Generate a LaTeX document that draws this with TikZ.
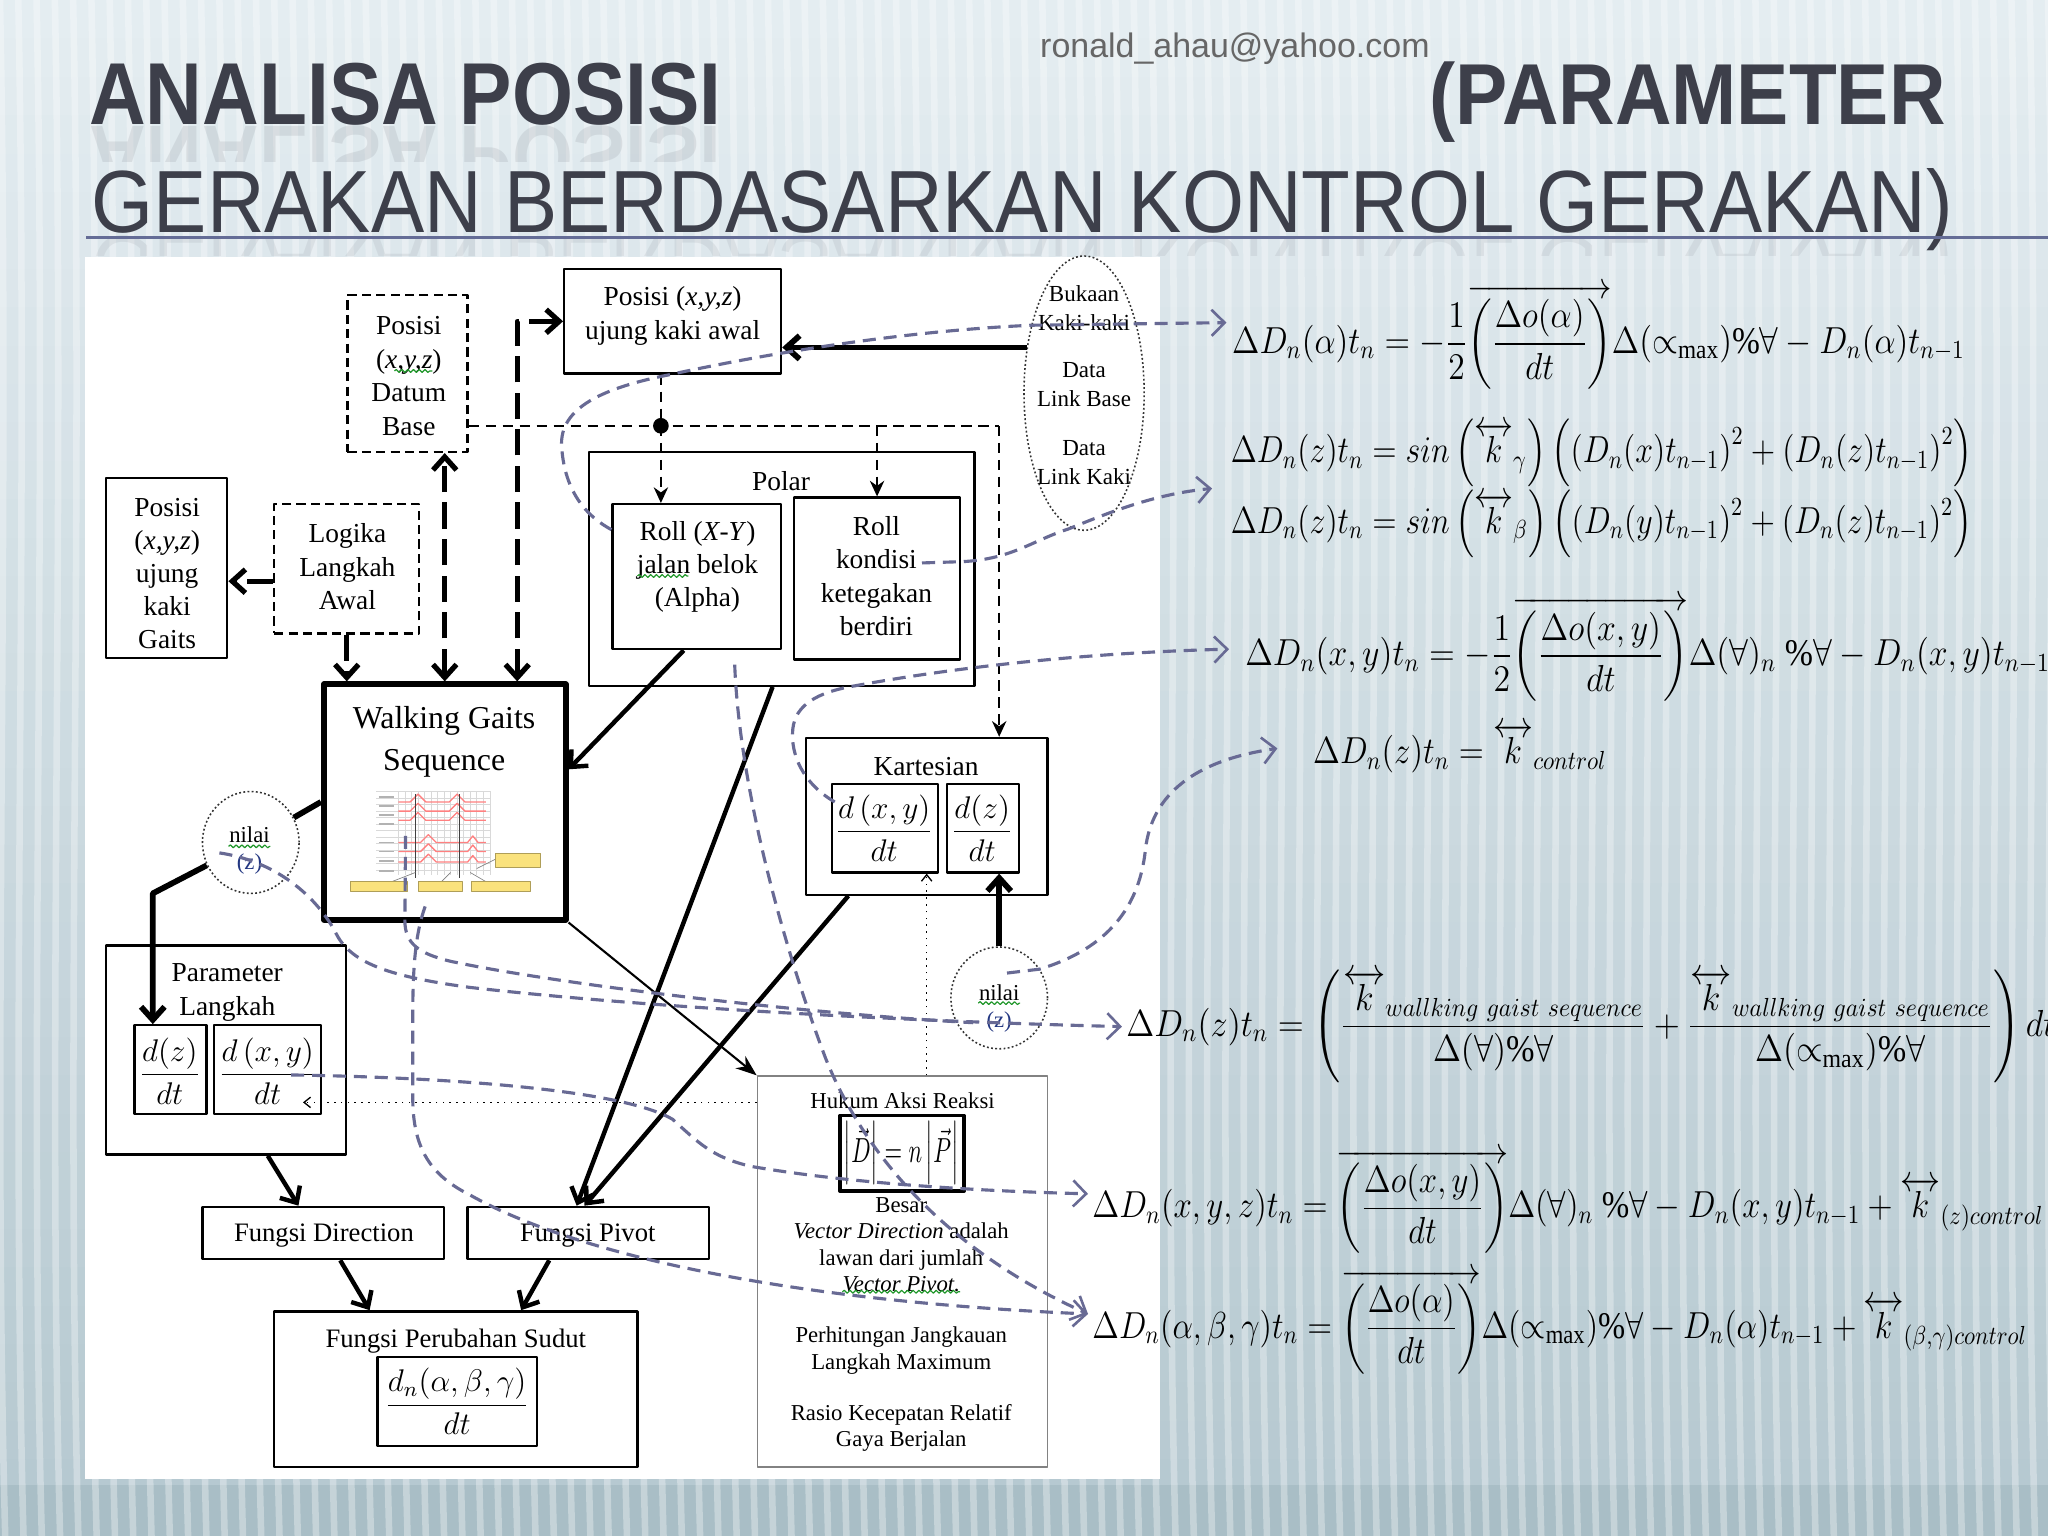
\documentclass[tikz,border=0pt]{standalone}
\usepackage{fontspec}
\usepackage{amsmath}
\usepackage{graphicx}
\setmainfont{Liberation Serif}
\newfontfamily\titlefont{Liberation Sans}
\newfontfamily\mailfont{Liberation Sans}
\usetikzlibrary{arrows.meta,fit,shapes.geometric,decorations.pathmorphing,calc}
\definecolor{dcol}{RGB}{104,106,148}
\definecolor{ttl}{RGB}{61,63,74}
\definecolor{bgtop}{RGB}{228,237,241}
\definecolor{bgbot}{RGB}{180,199,207}
\definecolor{band}{RGB}{166,188,196}
\definecolor{wavy}{RGB}{30,150,40}
\definecolor{zblue}{RGB}{35,55,130}
\definecolor{ylw}{RGB}{250,226,125}
\definecolor{hukgray}{RGB}{130,130,130}
\definecolor{rulec}{RGB}{100,108,150}
\tikzset{
  hbarb/.tip={Straight Barb[length=5pt,width=9pt]},
  sbarb/.tip={Straight Barb[length=2.5pt,width=4pt,line width=0.5pt]},
  cbarb/.tip={Straight Barb[length=5pt,width=10pt,line width=1pt]},
  stri/.tip={Stealth[length=6pt,width=5.5pt]},
  box/.style={draw, line width=0.9pt, inner sep=0pt},
  dbox/.style={draw, line width=0.9pt, dash pattern=on 3.5pt off 2pt, inner sep=0pt},
  txt/.style={align=center, inner sep=0pt, font=\fontsize{10.5}{12.8}\selectfont},
  htxt/.style={align=center, inner sep=0pt, font=\fontsize{8.7}{10}\selectfont},
  otxt/.style={align=center, inner sep=0pt, font=\fontsize{8.8}{11}\selectfont},
  frac/.style={inner sep=0pt, font=\large},
  eqn/.style={anchor=west, inner sep=0pt, font=\Large},
  heavy/.style={line width=1.7pt, -hbarb},
  heavydash/.style={line width=2pt, dash pattern=on 10pt off 4pt},
  thindash/.style={line width=0.8pt, dash pattern=on 4pt off 2.5pt},
  curve/.style={draw=dcol, line width=1.2pt, dash pattern=on 5pt off 3pt},
  dotcirc/.style={draw=black!80, line width=0.6pt, dash pattern=on 0.7pt off 0.9pt, ellipse, inner sep=0pt},
  squig/.style={draw=wavy, line width=0.45pt, decorate, decoration={snake, amplitude=0.55pt, segment length=2.2pt}}
}
\begin{document}
\begin{tikzpicture}[x=0.5pt,y=-0.5pt, line join=round]
\useasboundingbox (0,0) rectangle (1568,1176);
\clip (0,0) rectangle (1568,1176);
% ---------- background ----------
\foreach \i in {0,...,39} {
  \pgfmathsetmacro\p{\i*2.5}
  \fill[bgbot!\p!bgtop] (0,\i*29.4) rectangle (1568,\i*29.4+31);
}
\fill[band, opacity=0.8] (0,1137) rectangle (1568,1176);
\foreach \i in {0,...,113} {
  \draw[white, opacity=0.33, line width=2.5pt] (\i*14,0) .. controls (\i*14+8,400) and (\i*14-6,800) .. (\i*14+4,1176);
}
% ---------- title ----------
\begin{scope}
  \clip (0,96) rectangle (1568,124);
  \node[anchor=base west, inner sep=0pt, text=ttl, opacity=0.1, yscale=-1] (t1r) at (68,97) {\resizebox{242pt}{23.5pt}{\titlefont\bfseries ANALISA POSISI}};
\end{scope}
\begin{scope}
  \clip (0,179) rectangle (1568,196);
  \node[anchor=base west, inner sep=0pt, text=ttl, opacity=0.08, yscale=-1] (t3r) at (70,181) {\resizebox{712.5pt}{24.5pt}{\titlefont GERAKAN BERDASARKAN KONTROL GERAKAN)}};
\end{scope}
\node[anchor=base west, inner sep=0pt, text=ttl] (t1) at (68,95) {\resizebox{242pt}{23.5pt}{\titlefont\bfseries ANALISA POSISI}};
\node[anchor=base east, inner sep=0pt, text=ttl] (t2) at (1490,95) {\resizebox{197.5pt}{24pt}{\titlefont\bfseries (PARAMETER}};
\node[anchor=base west, inner sep=0pt, text=ttl] (t3) at (70,178) {\resizebox{712.5pt}{24.5pt}{\titlefont GERAKAN BERDASARKAN KONTROL GERAKAN)}};
\draw[rulec, line width=1pt] (66,182) -- (1568,182);
\node[anchor=base west, inner sep=0pt, text=black!60, font=\mailfont\fontsize{13}{13}\selectfont] (email) at (796,44) {ronald\_ahau@yahoo.com};
% ---------- white panel ----------
\fill[white] (65,197) rectangle (888,1132);
% ---------- boxes ----------
\node[box, fit={(432,206) (598,286)}] (top) {};
\node[dbox, fit={(266,226) (358,346)}] (datum) {};
\node[box, fit={(81,366) (174,504)}] (gaits) {};
\node[dbox, fit={(210,386) (321,485)}] (logika) {};
\node[box, line width=2.3pt, fit={(248,524) (433,704)}] (wg) {};
\node[box, fit={(451,346) (746,525)}] (polar) {};
\node[box, fit={(469,386) (598,497)}] (rollxy) {};
\node[box, fit={(608,381) (735,505)}] (rollk) {};
\node[box, fit={(617,565) (802,685)}] (kart) {};
\node[box, fit={(637,600) (718,668)}] (kxy) {};
\node[box, fit={(725,600) (780,668)}] (kz) {};
\node[box, fit={(81,724) (265,884)}] (param) {};
\node[box, fit={(103,785) (158,853)}] (pz) {};
\node[box, fit={(164,785) (246,853)}] (pxy) {};
\node[box, fit={(155,924) (340,964)}] (fdir) {};
\node[box, fit={(358,924) (543,964)}] (fpiv) {};
\node[box, fit={(210,1004) (488,1123)}] (fps) {};
\node[box, fit={(289,1039) (411,1107)}] (fpsin) {};
\node[draw=hukgray, line width=0.7pt, inner sep=0pt, fit={(580,824) (802,1123)}] (hukum) {};
\node[box, line width=1.3pt, fit={(643,854) (738,912)}] (hukin) {};
\node[dotcirc, minimum width=46pt, minimum height=105pt] (oval) at (830,301) {};
\node[dotcirc, minimum width=37pt, minimum height=39pt] (nz1) at (192,645) {};
\node[dotcirc, minimum width=37pt, minimum height=39pt] (nz2) at (765,764) {};
% ---------- texts ----------
\node[txt] (toptxt) at (515,242) {Posisi (\textit{x,y,z})\\ujung kaki awal};
\node[txt] (datumtxt) at (313,288) {Posisi\\(\textit{x,y,z})\\Datum\\Base};
\node[txt, font=\fontsize{10.5}{12.6}\selectfont] (gaitstxt) at (128,439) {Posisi\\(\textit{x,y,z})\\ujung\\kaki\\Gaits};
\node[txt] (logikatxt) at (266,434) {Logika\\Langkah\\Awal};
\node[txt] (polartxt) at (598,368) {Polar};
\node[txt] (rollxytxt) at (534,434) {Roll (\textit{X-Y})\\jalan belok\\(Alpha)};
\node[txt] (rollktxt) at (671,441) {Roll\\kondisi\\ketegakan\\berdiri};
\node[otxt] (ovaltxt) at (830,295) {Bukaan\\Kaki-kaki\\[7pt]Data\\Link Base\\[8pt]Data\\Link Kaki};
\node[txt, font=\fontsize{12.2}{16}\selectfont] (wgtxt) at (340,568) {Walking Gaits\\Sequence};
\node[txt] (karttxt) at (709,587) {Kartesian};
\node[frac] (kxyf) at (677,634) {$\dfrac{d\,(x,y)}{dt}$};
\node[frac] (kzf) at (752,634) {$\dfrac{d(z)}{dt}$};
\node[txt] (paramtxt) at (174,760) {Parameter\\Langkah};
\node[frac] (pzf) at (130,820) {$\dfrac{d(z)}{dt}$};
\node[frac] (pxyf) at (205,820) {$\dfrac{d\,(x,y)}{dt}$};
\node[txt, font=\fontsize{10.2}{12}\selectfont] (fdirtxt) at (248,946) {Fungsi Direction};
\node[txt, font=\fontsize{10.2}{12}\selectfont] (fpivtxt) at (450,946) {Fungsi Pivot};
\node[txt, font=\fontsize{10.2}{12}\selectfont] (fpstxt) at (349,1027) {Fungsi Perubahan Sudut};
\node[frac] (fpsf) at (350,1073) {$\dfrac{d_n(\alpha,\beta,\gamma)}{dt}$};
\node[htxt] (huk1) at (691,843) {Hukum Aksi Reaksi};
\node[inner sep=0pt] (hukf) at (690,883) {\resizebox*{44pt}{24pt}{$\left|\vec{D}\right| = n\left|\vec{P}\right|$}};
\node[htxt] (huk2) at (690,953) {Besar\\\textit{Vector Direction} adalah\\lawan dari jumlah\\\textit{Vector Pivot.}};
\node[htxt] (huk3) at (690,1034) {Perhitungan Jangkauan\\Langkah Maximum};
\node[htxt] (huk4) at (690,1093) {Rasio Kecepatan Relatif\\Gaya Berjalan};
\node[htxt, font=\fontsize{8.7}{10.5}\selectfont] (nz1txt) at (191,651) {nilai\\\textcolor{zblue}{(z)}};
\node[htxt, font=\fontsize{8.7}{10.5}\selectfont] (nz2txt) at (765,772) {nilai\\\textcolor{zblue}{(z)}};
% squiggly underlines
\draw[squig] (175,648) -- (207,648);
\draw[squig] (749,768) -- (781,768);
\draw[squig] (302,284) -- (331,284);
\draw[squig] (488,441) -- (527,441);
\draw[squig] (645,989) -- (735,989);
% ---------- thumbnail inside Walking Gaits ----------
\begin{scope}
  \fill[white] (288,606) rectangle (376,670);
  \foreach \gx in {305,310,...,375} \draw[gray!30, line width=0.2pt] (\gx,606) -- (\gx,670);
  \foreach \gy in {606,611,...,670} \draw[gray!30, line width=0.2pt] (288,\gy) -- (376,\gy);
  \foreach \gy in {610,617,624,631,645,652,659,667} \draw[gray!60, line width=0.6pt] (290,\gy) -- (302,\gy);
  \foreach \ry in {614,621,628} \draw[red!50, line width=0.5pt] (305,\ry) -- (314,\ry) -- (320,\ry-6) -- (326,\ry) -- (344,\ry) -- (350,\ry-6) -- (356,\ry) -- (372,\ry);
  \foreach \ry in {645,652,660} \draw[red!50, line width=0.5pt] (305,\ry) -- (322,\ry) -- (328,\ry-6) -- (334,\ry) -- (358,\ry) -- (362,\ry-5) -- (366,\ry) -- (372,\ry);
  \draw[gray!50!black, line width=0.5pt] (318,608) -- (318,672) (352,608) -- (352,672);
  \draw[gray, line width=0.25pt] (300,675) -- (318,668) (338,675) -- (345,668) (372,675) -- (360,668) (379,658) -- (365,665);
  \filldraw[fill=ylw, draw=ylw!70!black, line width=0.2pt] (268,675) rectangle (312,682);
  \filldraw[fill=ylw, draw=ylw!70!black, line width=0.2pt] (320,675) rectangle (354,682);
  \filldraw[fill=ylw, draw=ylw!70!black, line width=0.2pt] (361,675) rectangle (406,682);
  \filldraw[fill=ylw, draw=ylw!70!black, line width=0.2pt] (379,653) rectangle (414,664);
\end{scope}
% ---------- connectors ----------
\coordinate (kc) at (396,246);
\coordinate (kl) at (0,445);
\coordinate (ko) at (786,266);
\coordinate (dot) at (506,326);
\coordinate (kr) at (765,326);
\coordinate (kn) at (117,684);
\coordinate (kh) at (232,844);
\draw[heavydash, hbarb-hbarb] (wg.north) -- (wg.north |- datum.south);
\draw[heavydash, hbarb-hbarb] (wg.north -| kc) -- (kc) -- (top.west |- kc);
\draw[heavydash, -hbarb] (logika.south) -- (logika.south |- wg.north);
\draw[heavydash, -hbarb] (logika.west |- kl) -- (gaits.east |- kl);
\draw[line width=2.2pt, -hbarb] (ko) -- (top.east |- ko);
\draw[thindash] (datum.east |- dot) -- (kr);
\draw[thindash, -stri] (kr) -- (kart.north -| kr);
\draw[thindash] (top.south -| dot) -- (dot);
\draw[thindash, -stri] (dot) -- (rollxy.north -| dot);
\draw[thindash, -stri] (rollk.north |- dot) -- (rollk.north);
\fill (dot) circle (6);
\draw[heavy] ([shift={(-10,0)}]rollxy.south) -- ([shift={(0,-25)}]wg.east);
\draw[heavy] ([shift={(-7,0)}]polar.south) -- ([shift={(-9,0)}]fpiv.north);
\draw[heavy] ([shift={(-60,0)}]kart.south) -- ([shift={(-3,0)}]fpiv.north);
\draw[line width=0.8pt, -{Stealth[length=8pt,width=6pt]}] (wg.south east) -- (hukum.north west);
\draw[line width=2.2pt] (wg.west) -- (nz1);
\draw[line width=2.2pt, -hbarb] (nz1) -- (kn) -- (pz.north -| kn);
\draw[heavy] ([shift={(32,0)}]param.south) -- ([shift={(-19,0)}]fdir.north);
\draw[heavy] ([shift={(13,0)}]fdir.south) -- ([shift={(-66,0)}]fps.north);
\draw[heavy] ([shift={(-30,0)}]fpiv.south) -- ([shift={(50,0)}]fps.north);
\draw[line width=2.2pt, -hbarb] (nz2.north) -- (nz2.north |- kz.south);
\draw[line width=0.6pt, dotted, -sbarb] (hukum.north -| kart.south) -- (kxy.south -| kart.south);
\draw[line width=0.6pt, dotted, -sbarb] (hukum.west |- kh) -- (kh);
% ---------- equations ----------
\node[eqn] (eq1) at (943,258) {\scalebox{0.89}[1]{$\displaystyle \Delta D_n(\alpha)t_n = -\frac{1}{2}\overrightarrow{\left(\frac{\Delta o(\alpha)}{dt}\right)}\Delta(\propto_{\max})\%\forall - D_n(\alpha)t_{n-1}$}};
\node[eqn] (eq2) at (942,347) {\scalebox{0.85}[1]{$\displaystyle \Delta D_n(z)t_n = sin\left(\overleftrightarrow{k}_{\gamma}\right)\left(\left(D_n(x)t_{n-1}\right)^2 + \left(D_n(z)t_{n-1}\right)^2\right)$}};
\node[eqn] (eq3) at (942,401) {\scalebox{0.85}[1]{$\displaystyle \Delta D_n(z)t_n = sin\left(\overleftrightarrow{k}_{\beta}\right)\left(\left(D_n(y)t_{n-1}\right)^2 + \left(D_n(z)t_{n-1}\right)^2\right)$}};
\node[eqn] (eq4) at (953,497) {\scalebox{0.9}[1]{$\displaystyle \Delta D_n(x,y)t_n = -\frac{1}{2}\overrightarrow{\left(\frac{\Delta o(x,y)}{dt}\right)}\Delta(\forall)_n\ \%\forall - D_n(x,y)t_{n-1}$}};
\node[eqn] (eq5) at (1005,573) {\scalebox{0.875}[1]{$\displaystyle \Delta D_n(z)t_n = \overleftrightarrow{k}_{control}$}};
\node[eqn] (eq6) at (862,786) {\scalebox{0.91}[1]{$\displaystyle \Delta D_n(z)t_n = \left(\frac{\overleftrightarrow{k}_{wallking\ gaist\ sequence}}{\Delta(\forall)\%\forall} + \frac{\overleftrightarrow{k}_{wallking\ gaist\ sequence}}{\Delta(\propto_{\max})\%\forall}\right)dt$}};
\node[eqn] (eq7) at (836,920) {\scalebox{0.877}[1]{$\displaystyle \Delta D_n(x,y,z)t_n = \overrightarrow{\left(\frac{\Delta o(x,y)}{dt}\right)}\Delta(\forall)_n\ \%\forall - D_n(x,y)t_{n-1} + \overleftrightarrow{k}_{(z)control}$}};
\node[eqn] (eq8) at (836,1012) {\scalebox{0.865}[1]{$\displaystyle \Delta D_n(\alpha,\beta,\gamma)t_n = \overrightarrow{\left(\frac{\Delta o(\alpha)}{dt}\right)}\Delta(\propto_{\max})\%\forall - D_n(\alpha)t_{n-1} + \overleftrightarrow{k}_{(\beta,\gamma)control}$}};
% ---------- dashed curves ----------
\draw[curve, -cbarb] ([shift={(0,-36)}]rollxy.west) .. controls (445,393) and (432,372) .. (430,342) .. controls (428,312) and (462,297) .. (512,287) .. controls (600,268) and (700,253) .. (790,249) -- ([shift={(-4,-11)}]eq1.west);
\draw[curve, -cbarb] ([shift={(-30,-12)}]rollk.east) -- (737,430) .. controls (775,428) and (790,414) .. (818,405) .. controls (850,392) and (885,378) .. ($(eq2.west)!0.5!(eq3.west)+(-14,0)$);
\draw[curve, -cbarb] ([shift={(3,-20)}]kxy.west) .. controls (615,600) and (605,578) .. (607,558) .. controls (609,540) and (625,530) .. (655,525) .. controls (720,513) and (820,500) .. ([shift={(-12,0)}]eq4.west);
\draw[curve, -cbarb] ([shift={(6,-19)}]nz2.center) -- (796,742) .. controls (842,728) and (872,700) .. (877,650) .. controls (882,608) and (915,582) .. ([shift={(-27,0)}]eq5.west);
\draw[curve, -cbarb] ([shift={(-24,8)}]nz1.center) .. controls (215,660) and (245,690) .. (258,716) .. controls (270,738) and (300,748) .. (360,756) .. controls (500,772) and (700,782) .. ([shift={(-3,0)}]eq6.west);
\coordinate (e2end) at (745,783);
\draw[curve] ([shift={(-30,26)}]wg.center) -- (310,705) .. controls (310,722) and (320,730) .. (345,736) .. controls (420,752) and (600,775) .. (e2end);
\draw[curve, -cbarb] ([shift={(-24,4)}]pxy.east) .. controls (350,825) and (478,835) .. (515,857) .. controls (535,875) and (545,886) .. (575,893) .. controls (650,906) and (750,912) .. ([shift={(-3,-6)}]eq7.west);
\draw[curve, -cbarb] ([shift={(-15,80)}]wg.center) .. controls (318,715) and (316,740) .. (316,780) -- (316,840) .. controls (316,880) and (330,900) .. (360,915) .. controls (440,960) and (600,996) .. ([shift={(-3,-6)}]eq8.west);
\draw[curve, -cbarb] ([shift={(-36,-17)}]polar.south) .. controls (566,600) and (598,720) .. (632,810) .. controls (660,880) and (720,955) .. ([shift={(-3,-6)}]eq8.west);
\end{tikzpicture}
\end{document}
